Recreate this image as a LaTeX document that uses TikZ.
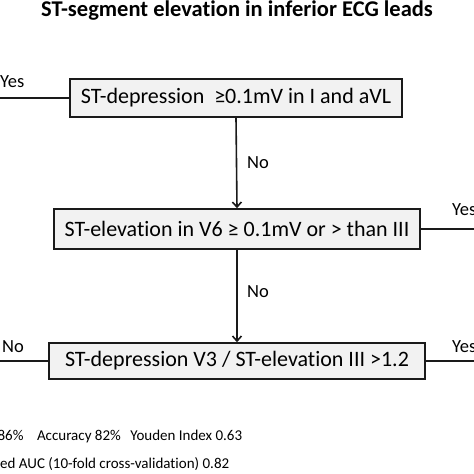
\documentclass[tikz,border=0pt]{standalone}
\usepackage{fontspec}
\setmainfont{Carlito}[Ligatures=NoCommon]
\usetikzlibrary{arrows.meta, positioning}
\definecolor{boxgray}{HTML}{F2F2F2}
\definecolor{linedark}{HTML}{1A1A1A}

\begin{document}
\begin{tikzpicture}[
    x=1pt, y=-1pt,
    >={Straight Barb[length=5pt, width=9pt, line width=1.6pt]},
    crit/.style={draw=linedark, line width=1.6pt, fill=boxgray, inner sep=0pt, font=\fontsize{22}{25}\selectfont},
    branch/.style={font=\fontsize{18.5}{21}\selectfont, inner sep=0pt},
    flow/.style={->, line width=1.6pt, color=linedark},
    exit/.style={line width=1.6pt, color=linedark},
    note/.style={font=\fontsize{15}{17}\selectfont, inner sep=0pt, anchor=base west},
]
\useasboundingbox (0,0) rectangle (474,474);
\clip (0,0) rectangle (474,474);

% Title
\node[font=\bfseries\fontsize{22.5}{26}\selectfont, inner sep=0pt, anchor=base] (title) at (237,16) {ST-segment elevation in inferior ECG leads};

% Criteria boxes
\node[crit, minimum width=332pt, minimum height=38pt] (stdep) at (236,98) {ST-depression\ \ ≥0.1mV in I and aVL};
\node[crit, minimum width=366pt, minimum height=40pt] (stelev) at (237,229) {ST-elevation in V6 ≥ 0.1mV or > than III};
\node[crit, minimum width=376pt, minimum height=36pt] (ratio) at (237,361) {ST-depression V3 / ST-elevation III >1.2};

% Free ends
\coordinate (out1) at (0,98);
\coordinate (out2) at (474,229);
\coordinate (out3l) at (0,361);
\coordinate (out3r) at (474,361);

% Arrows
\draw[flow] (stdep.south) -- (stelev.north);
\draw[flow] (stelev.south) -- (ratio.north);
\draw[exit] (stdep.west) -- (out1);
\draw[exit] (stelev.east) -- (out2);
\draw[exit] (ratio.west) -- (out3l);
\draw[exit] (ratio.east) -- (out3r);

% Branch labels
\node[branch, anchor=west] (yes1) at (0,82) {Yes};
\node[branch, anchor=west] (no1) at (247,163) {No};
\node[branch, anchor=west] (yes2) at (452,210) {Yes};
\node[branch, anchor=west] (no2) at (247,292) {No};
\node[branch, anchor=west] (no3) at (2,347) {No};
\node[branch, anchor=west] (yes3) at (452,347) {Yes};

% Performance
\node[note] (perf) at (-2.6,440) {86\%\hspace{13.5pt}Accuracy 82\%\hspace{9.5pt}Youden Index 0.63};
\node[note] (auc) at (0,468) {ed AUC (10-fold cross-validation) 0.82};

\end{tikzpicture}
\end{document}
